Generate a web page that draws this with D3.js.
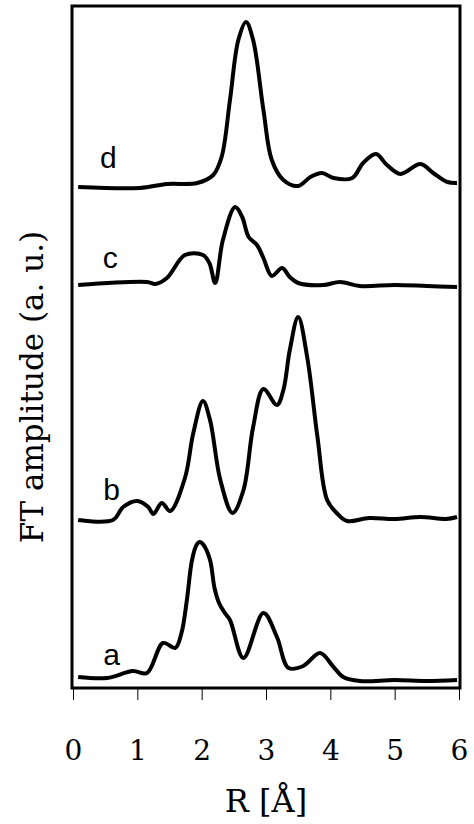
<!DOCTYPE html>
<html>
<head>
<meta charset="utf-8">
<script src="https://cdn.jsdelivr.net/npm/d3@7"></script>
<style>
  body { margin: 0; background: #fff; }
</style>
</head>
<body>
<div id="viz"></div>
<script>
// R values [Å] and FT amplitude (a. u., curves already offset)
const rA = [0.08, 0.53, 0.93, 1.15, 1.4, 1.59, 1.69, 1.77, 1.85, 1.92, 1.97, 2.03, 2.13, 2.2, 2.27, 2.35, 2.44, 2.65, 2.96, 3.17, 3.35, 3.58, 3.84, 4.05, 4.2, 4.46, 5.0, 5.5, 5.97];
const ampA = [11, 10, 17, 15, 45, 40, 56, 88, 128, 143, 146, 143, 128, 100, 85, 76, 68, 30, 75, 51, 20, 22, 35, 21, 11, 7, 8, 7, 8];

const rB = [0.08, 0.62, 0.78, 1.0, 1.17, 1.25, 1.38, 1.51, 1.74, 1.87, 2.02, 2.13, 2.29, 2.48, 2.65, 2.8, 2.96, 3.17, 3.27, 3.37, 3.5, 3.64, 3.8, 3.95, 4.1, 4.26, 4.6, 5.0, 5.4, 5.8, 5.97];
const ampB = [168, 168, 181, 187, 181, 174, 185, 177, 210, 255, 287, 268, 208, 175, 198, 261, 299, 283, 298, 338, 371, 331, 251, 188, 175, 167, 170, 169, 171, 169, 171];

const rC = [0.08, 1.15, 1.28, 1.46, 1.74, 2.02, 2.12, 2.21, 2.33, 2.52, 2.63, 2.73, 2.86, 2.96, 3.09, 3.25, 3.37, 3.5, 3.89, 4.15, 4.46, 5.0, 5.5, 5.97];
const ampC = [403, 406, 404, 410, 433, 433, 425, 405, 448, 481, 471, 451, 443, 430, 412, 420, 411, 405, 403, 406, 402, 403, 402, 401];

const rD = [0.08, 1.04, 1.46, 1.93, 2.18, 2.31, 2.44, 2.57, 2.69, 2.8, 2.96, 3.09, 3.27, 3.5, 3.69, 3.87, 4.05, 4.34, 4.51, 4.71, 4.88, 5.09, 5.4, 5.6, 5.82, 5.97];
const ampD = [501, 500, 504, 505, 513, 531, 588, 648, 666, 648, 578, 528, 508, 502, 511, 515, 510, 510, 525, 534, 523, 514, 524, 515, 506, 505];

const labels = ["a", "b", "c", "d"];
const labelPos = [[0.6, 23], [0.6, 188], [0.58, 420], [0.55, 520]];
const xTicks = [0, 1, 2, 3, 4, 5, 6];

const W = 474, H = 824;
const x0 = 73, x1 = 459, yTop = 6, yBot = 688;

const x = d3.scaleLinear().domain([0, 6]).range([x0, x1]);
const y = d3.scaleLinear().domain([0, 682]).range([yBot, yTop]);

const svg = d3.select("#viz").append("svg")
    .attr("width", W)
    .attr("height", H);

// frame
svg.append("rect")
    .attr("x", 72).attr("y", yTop)
    .attr("width", 388).attr("height", yBot - yTop)
    .attr("fill", "none")
    .attr("stroke", "#000")
    .attr("stroke-width", 3);

// x axis
const xAxis = d3.axisBottom(x).tickValues(xTicks).tickSize(12).tickFormat(d3.format("d"));
const gx = svg.append("g")
    .attr("transform", `translate(0, ${yBot})`)
    .call(xAxis);
gx.select(".domain").remove();
gx.selectAll("line").attr("stroke-width", 1);
gx.selectAll("text")
    .attr("dy", 0)
    .attr("y", 72)
    .attr("font-family", "DejaVu Serif")
    .attr("font-size", 28);

svg.append("text")
    .attr("x", (x0 + x1) / 2)
    .attr("y", 812)
    .attr("text-anchor", "middle")
    .attr("font-family", "DejaVu Serif")
    .attr("font-size", 32)
    .text("R [Å]");

svg.append("text")
    .attr("transform", `translate(43, ${(yTop + yBot) / 2 + 40}) rotate(-90)`)
    .attr("text-anchor", "middle")
    .attr("font-family", "DejaVu Serif")
    .attr("font-size", 31)
    .text("FT amplitude (a. u.)");

const line = d3.line()
    .x(d => x(d[0]))
    .y(d => y(d[1]))
    .curve(d3.curveCatmullRom.alpha(0.5));

const series = [
    d3.zip(rA, ampA),
    d3.zip(rB, ampB),
    d3.zip(rC, ampC),
    d3.zip(rD, ampD)
];

svg.selectAll("path.curve")
    .data(series)
    .enter().append("path")
        .attr("class", "curve")
        .attr("d", line)
        .attr("fill", "none")
        .attr("stroke", "#000")
        .attr("stroke-width", 4)
        .attr("stroke-linejoin", "round");

svg.selectAll("text.lbl")
    .data(labels)
    .enter().append("text")
        .attr("class", "lbl")
        .attr("x", (d, i) => x(labelPos[i][0]))
        .attr("y", (d, i) => y(labelPos[i][1]))
        .attr("text-anchor", "middle")
        .attr("font-family", "Liberation Sans")
        .attr("font-size", 30)
        .text(d => d);
</script>
</body>
</html>
